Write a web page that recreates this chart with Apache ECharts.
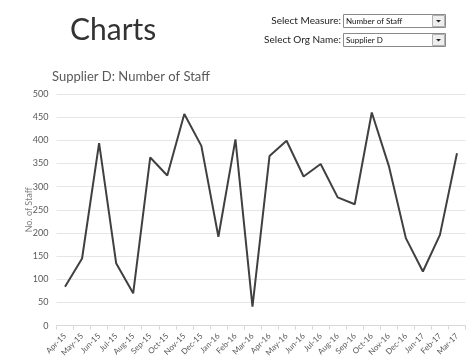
<!DOCTYPE html>
<html><head><meta charset="utf-8">
<script src="https://cdn.jsdelivr.net/npm/echarts@6/dist/echarts.min.js"></script>
<style>html,body{margin:0;padding:0;background:#fff}#c{width:474px;height:363px}</style>
</head><body><div id="c"></div>
<script>
var categories = ['Apr-15','May-15','Jun-15','Jul-15','Aug-15','Sep-15','Oct-15','Nov-15','Dec-15','Jan-16','Feb-16','Mar-16','Apr-16','May-16','Jun-16','Jul-16','Aug-16','Sep-16','Oct-16','Nov-16','Dec-16','Jan-17','Feb-17','Mar-17'];
var staffValues = [84,145,394,135,70,363,324,457,388,192,402,41,366,399,322,349,277,262,460,345,189,117,196,372];
var yTicks = {min:0, max:500, interval:50};
var pageTitle = 'Charts';
var chartTitle = 'Supplier D: Number of Staff';
var measureLabel = 'Select Measure:';
var measureValue = 'Number of Staff';
var orgLabel = 'Select Org Name:';
var orgValue = 'Supplier D';

var F = 'Lato, "Open Sans", sans-serif';
function dropdown(y, label, value){
  return [
    {type:'text', style:{text:label, x:341, y:y+7, align:'right', verticalAlign:'middle', font:'10px '+F, fill:'#222'}},
    {type:'rect', shape:{x:343.5, y:y+0.5, width:102, height:13}, style:{fill:'#fff', stroke:'#8a8a8a', lineWidth:1}},
    {type:'text', style:{text:value, x:346, y:y+7, verticalAlign:'middle', font:'8px '+F, fill:'#111'}},
    {type:'rect', shape:{x:432.5, y:y+1.5, width:12, height:11}, style:{fill:'#eee', stroke:'#b0b0b0', lineWidth:1}},
    {type:'polygon', shape:{points:[[436,y+6],[441,y+6],[438.5,y+8.5]]}, style:{fill:'#222'}}
  ];
}
var chart = echarts.init(document.getElementById('c'), null, {renderer:'canvas'});
chart.setOption({
  animation:false,
  backgroundColor:'#fff',
  graphic:[].concat(
    [{type:'text', style:{text:pageTitle, x:70, y:30, verticalAlign:'middle', font:'30px '+F, fill:'#333'}},
     {type:'text', style:{text:chartTitle, x:52, y:77, verticalAlign:'middle', font:'13px '+F, fill:'#595959'}}],
    dropdown(14, measureLabel, measureValue),
    dropdown(33, orgLabel, orgValue)
  ),
  grid:{left:56.5, right:8.5, top:94, bottom:37.3, containLabel:false},
  xAxis:{
    type:'category', data:categories, boundaryGap:true,
    axisLine:{lineStyle:{color:'#d9d9d9'}},
    axisTick:{show:true, lineStyle:{color:'#d9d9d9'}, length:4},
    axisLabel:{rotate:45, color:'#595959', fontSize:8, fontFamily:F, margin:9, interval:0}
  },
  yAxis:{
    type:'value', min:yTicks.min, max:yTicks.max, interval:yTicks.interval,
    name:'No. of Staff', nameLocation:'middle', nameGap:23, nameRotate:90, nameMoveOverlap:false,
    nameTextStyle:{color:'#7f7f7f', fontSize:9, fontFamily:F},
    axisLine:{show:false}, axisTick:{show:false},
    axisLabel:{color:'#595959', fontSize:9, fontFamily:F, margin:8},
    splitLine:{lineStyle:{color:'#e6e6e6'}}
  },
  series:[{type:'line', data:staffValues, symbol:'none', lineStyle:{color:'#404040', width:2}}]
});
</script></body></html>
